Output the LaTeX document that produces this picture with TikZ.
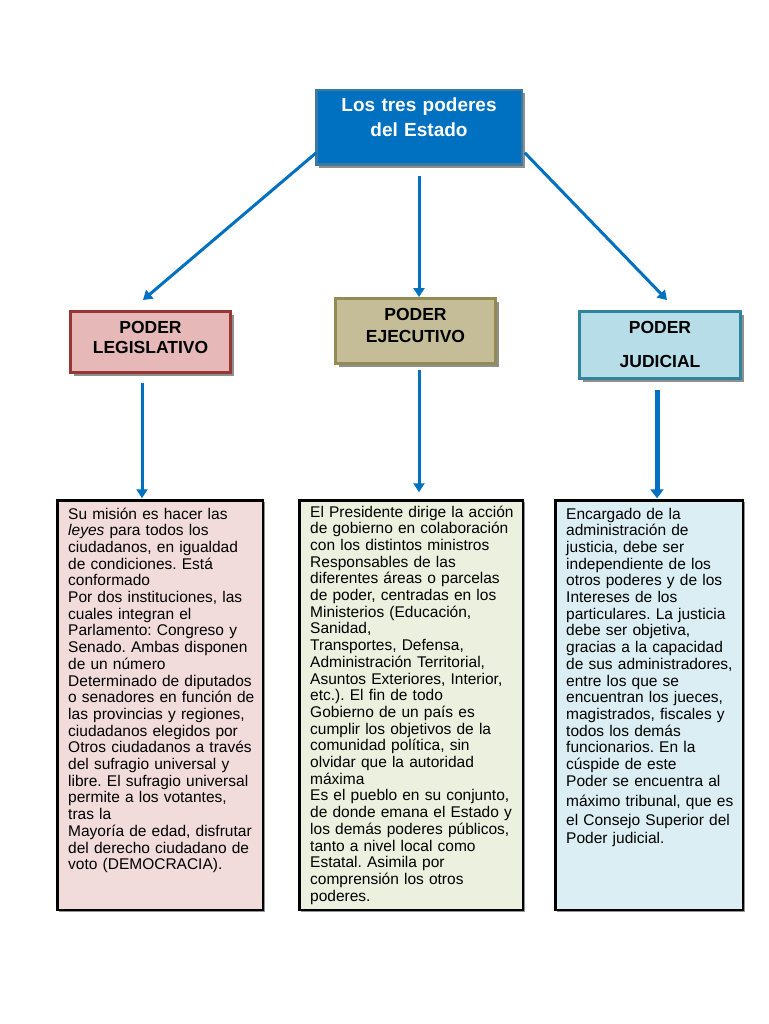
\documentclass[tikz,border=0pt]{standalone}
\usepackage{fontspec}
\setmainfont{Liberation Sans}
\usetikzlibrary{shadows,calc,arrows.meta}
\definecolor{azul}{HTML}{0070C0}
\definecolor{topborder}{HTML}{3C78A0}
\definecolor{legfill}{HTML}{E6B9B8}
\definecolor{legdraw}{HTML}{953735}
\definecolor{ejefill}{HTML}{C4BD97}
\definecolor{ejedraw}{HTML}{948A54}
\definecolor{judfill}{HTML}{B7DEE8}
\definecolor{juddraw}{HTML}{31849B}
\definecolor{lfill}{HTML}{F2DCDB}
\definecolor{mfill}{HTML}{EBF1DE}
\definecolor{rfill}{HTML}{DAEEF3}
\frenchspacing
\begin{document}
\begin{tikzpicture}[x=1pt,y=-1pt,
  headbox/.style={draw, rectangle, inner sep=0pt, outer sep=0pt, line width=3pt,
    drop shadow={shadow xshift=3pt, shadow yshift=-3pt, fill=black!55, opacity=0.8}},
  headtext/.style={anchor=base, inner sep=0pt, align=center, text width=200pt,
    font=\fontsize{17.5}{20}\selectfont\bfseries},
  infobox/.style={draw=black, rectangle, inner sep=0pt, outer sep=0pt, line width=2.5pt,
    drop shadow={shadow xshift=2pt, shadow yshift=-2pt, fill=black!60, opacity=0.7}},
  infotext/.style={anchor=base west, inner sep=0pt, align=left, text width=225pt,
    font=\fontsize{15.5}{16.7}\selectfont\frenchspacing},
  flecha/.style={draw=azul, line width=3pt, -{Triangle[length=9pt,width=11pt]}}
]
\useasboundingbox (0,0) rectangle (768,1024);
\fill[white] (0,0) rectangle (768,1024);

% top box
\node[headbox, line width=2.5pt, draw=topborder, fill=azul, minimum width=205.5pt, minimum height=74.5pt] (top) at (419,127.5) {};
\node[headtext, text=white, font=\fontsize{19}{25}\selectfont\bfseries] (toptxt) at (419,112) {Los tres poderes\\del Estado};

% heading boxes
\node[headbox, draw=legdraw, fill=legfill, minimum width=160pt, minimum height=61pt] (leg) at (150.5,342) {};
\node[headtext] (legtxt) at (150.5,333) {PODER\\LEGISLATIVO};

\node[headbox, draw=ejedraw, fill=ejefill, minimum width=160pt, minimum height=65pt] (eje) at (415.5,331) {};
\node[headtext, font=\fontsize{17.5}{22}\selectfont\bfseries] (ejetxt) at (415.5,320) {PODER\\EJECUTIVO};

\node[headbox, draw=juddraw, fill=judfill, minimum width=161pt, minimum height=67pt] (jud) at (660,345) {};
\node[headtext, font=\fontsize{17.5}{34}\selectfont\bfseries] (judtxt) at (660,333) {PODER\\JUDICIAL};

% info boxes
\node[infobox, fill=lfill, minimum width=205.5pt, minimum height=409.5pt] (lbox) at (160,705) {};
\node[infotext] (ltxt) at (68,519) {Su misión es hacer las\\
\textit{leyes} para todos los\\
ciudadanos, en igualdad\\
de condiciones. Está\\
conformado\\
Por dos instituciones, las\\
cuales integran el\\
Parlamento: Congreso y\\
Senado. Ambas disponen\\
de un número\\
Determinado de diputados\\
o senadores en función de\\
las provincias y regiones,\\
ciudadanos elegidos por\\
Otros ciudadanos a través\\
del sufragio universal y\\
libre. El sufragio universal\\
permite a los votantes,\\
tras la\\
Mayoría de edad, disfrutar\\
del derecho ciudadano de\\
voto (DEMOCRACIA).};

\node[infobox, fill=mfill, minimum width=223.5pt, minimum height=409.5pt] (mbox) at (411,705) {};
\node[infotext] (mtxt) at (310,517) {El Presidente dirige la acción\\
de gobierno en colaboración\\
con los distintos ministros\\
Responsables de las\\
diferentes áreas o parcelas\\
de poder, centradas en los\\
Ministerios (Educación,\\
Sanidad,\\
Transportes, Defensa,\\
Administración Territorial,\\
Asuntos Exteriores, Interior,\\
etc.). El fin de todo\\
Gobierno de un país es\\
cumplir los objetivos de la\\
comunidad política, sin\\
olvidar que la autoridad\\
máxima\\
Es el pueblo en su conjunto,\\
de donde emana el Estado y\\
los demás poderes públicos,\\
tanto a nivel local como\\
Estatal. Asimila por\\
comprensión los otros\\
poderes.};

\node[infobox, fill=rfill, minimum width=187.5pt, minimum height=409.5pt] (rbox) at (649,705) {};
\node[infotext] (rtxt) at (566,519) {Encargado de la\\
administración de\\
justicia, debe ser\\
independiente de los\\
otros poderes y de los\\
Intereses de los\\
particulares. La justicia\\
debe ser objetiva,\\
gracias a la capacidad\\
de sus administradores,\\
entre los que se\\
encuentran los jueces,\\
magistrados, fiscales y\\
todos los demás\\
funcionarios. En la\\
cúspide de este\\
Poder se encuentra al\\[3.3pt]
máximo tribunal, que es\\[2.3pt]
el Consejo Superior del\\[1.3pt]
Poder judicial.};

% arrows
\draw[flecha] ($(top.south west)+(0,-12)$) -- ($(leg.north)+(-7.5,-11.5)$);
\draw[flecha] ($(top.south)+(0,11)$) -- ($(eje.north)+(3.5,-1.5)$);
\draw[flecha] ($(top.south east)+(3,-12)$) -- ($(jud.north)+(7,-11.5)$);
\draw[flecha] ($(leg.south)+(-8.5,10.5)$) -- ($(lbox.north)+(-18,-2)$);
\draw[flecha] ($(eje.south)+(3.5,6.5)$) -- ($(mbox.north)+(8,-8)$);
\draw[flecha, line width=5pt, -{Triangle[length=9pt,width=13pt]}] ($(jud.south)+(-3,11.5)$) -- ($(rbox.north)+(8,-2)$);
\end{tikzpicture}
\end{document}
